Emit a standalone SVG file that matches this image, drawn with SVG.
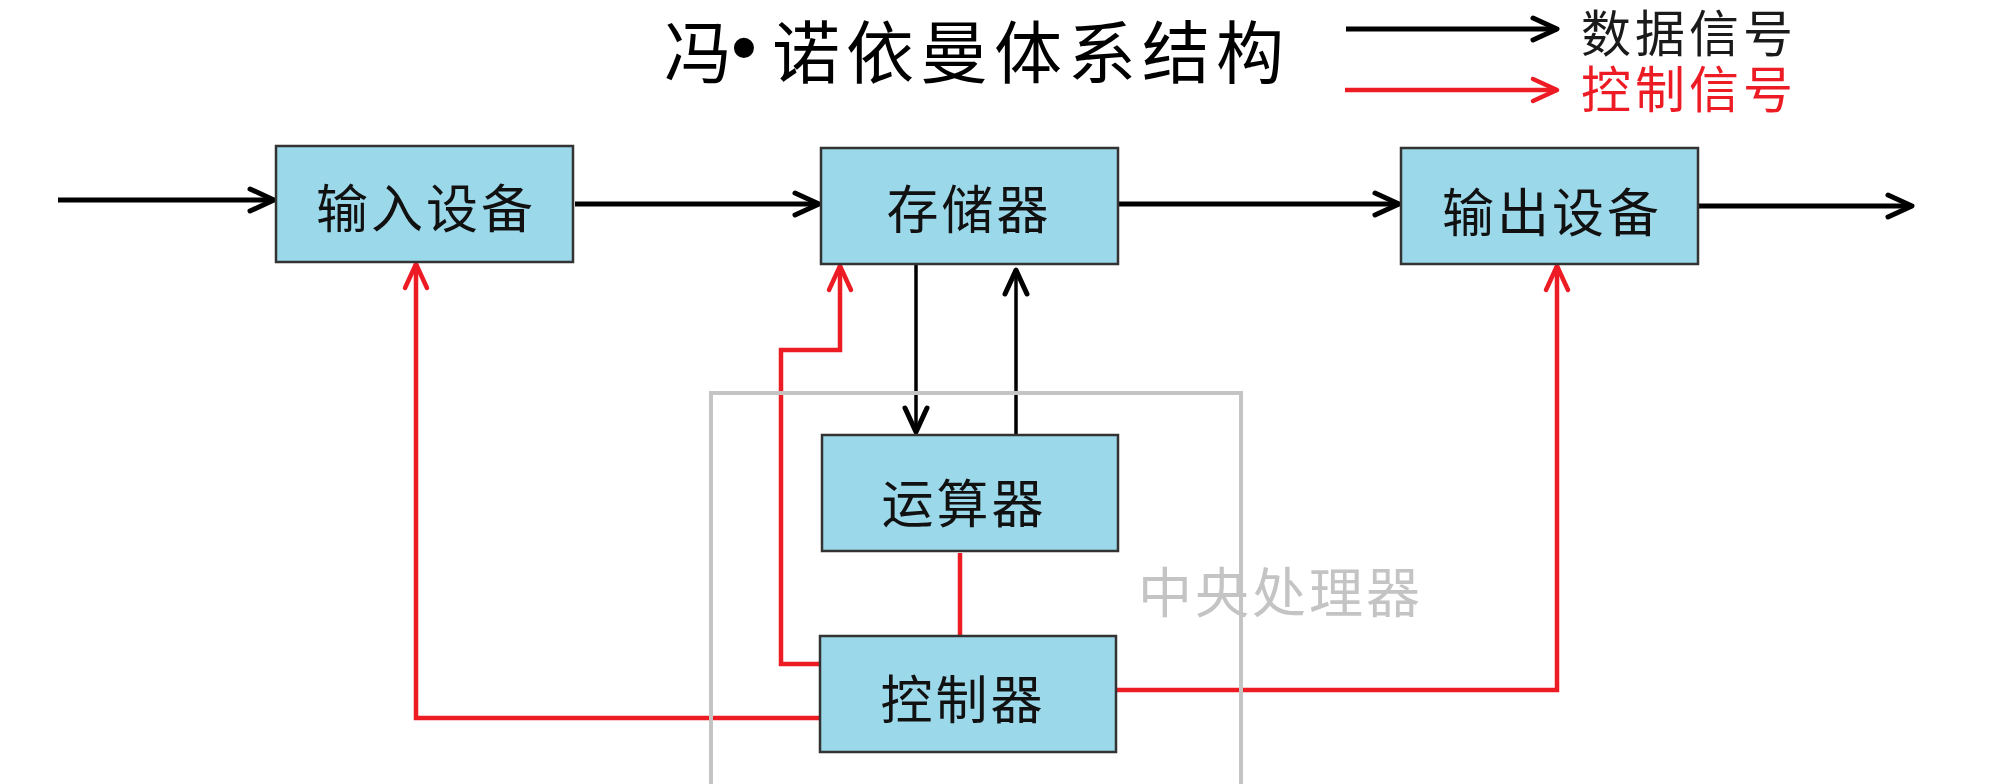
<svg xmlns="http://www.w3.org/2000/svg" width="1990" height="784" viewBox="0 0 1990 784">
<style>
.box{fill:#9bd8e9;stroke:#333;stroke-width:2.5}
.bt{font-family:"Noto Sans CJK SC","Noto Sans",sans-serif;font-size:52px;fill:#111;text-anchor:middle;letter-spacing:3px}
.blk{fill:none;stroke:#000;stroke-width:5}
.blkt{fill:none;stroke:#000;stroke-width:3.5}
.red{fill:none;stroke:#ed1c24;stroke-width:4.5}
.lg{font-family:"Noto Sans CJK SC","Noto Sans",sans-serif;font-size:50px;letter-spacing:4px}
</style>
<defs>
<marker id="ab" markerUnits="userSpaceOnUse" viewBox="-32 -16 38 32" refX="0" refY="0" markerWidth="38" markerHeight="32" orient="auto">
<path d="M-24,-11 L0,0 L-24,11" fill="none" stroke="#000" stroke-width="5" stroke-linecap="round" stroke-linejoin="round"/>
</marker>
<marker id="ar" markerUnits="userSpaceOnUse" viewBox="-32 -16 38 32" refX="0" refY="0" markerWidth="38" markerHeight="32" orient="auto">
<path d="M-24,-11 L0,0 L-24,11" fill="none" stroke="#ed1c24" stroke-width="4.5" stroke-linecap="round" stroke-linejoin="round"/>
</marker>
</defs>
<rect width="1990" height="784" fill="#fff"/>
<g id="title">
<text y="78" font-family="'Noto Sans CJK SC','Noto Sans',sans-serif" font-size="68" fill="#000"><tspan x="664">冯</tspan><tspan x="731" y="73" font-family="'Liberation Sans',sans-serif" font-size="74">•</tspan><tspan x="772" y="78" letter-spacing="6">诺依曼体系结构</tspan></text>
</g>
<g id="legend">
<path class="blk" d="M1346,29 H1557" marker-end="url(#ab)"/>
<path class="red" d="M1345,90 H1557" marker-end="url(#ar)"/>
<text class="lg" x="1581" y="52" fill="#1a1a1a">数据信号</text>
<text class="lg" x="1581" y="108" fill="#ed1c24">控制信号</text>
</g>
<g id="connectors">
<path class="blk" d="M58,200 H274" marker-end="url(#ab)"/>
<path class="blk" d="M575,204 H819" marker-end="url(#ab)"/>
<path class="blk" d="M1119,204 H1399" marker-end="url(#ab)"/>
<path class="blk" d="M1699,206 H1912" marker-end="url(#ab)"/>
<path class="blkt" d="M916,265 V432" marker-end="url(#ab)"/>
<path class="blkt" d="M1016,434 V270" marker-end="url(#ab)"/>
<path class="red" d="M820,718 H416 V264" marker-end="url(#ar)"/>
<path class="red" d="M820,664 H781 V350 H840 V266" marker-end="url(#ar)"/>
<path class="red" d="M1116,690 H1557 V266" marker-end="url(#ar)"/>
<path class="red" d="M960,553 V636"/>
</g>
<g id="cpu">
<rect x="711" y="393" width="530" height="430" fill="none" stroke="#c4c4c4" stroke-width="4"/>
<text x="1138" y="613" font-family="'Noto Sans CJK SC','Noto Sans',sans-serif" font-size="54" fill="#c4c4c4" letter-spacing="3">中央处理器</text>
</g>
<g id="input">
<rect class="box" x="276" y="146" width="297" height="116"/>
<text class="bt" x="426" y="228">输入设备</text>
</g>
<g id="memory">
<rect class="box" x="821" y="148" width="297" height="116"/>
<text class="bt" x="969" y="229">存储器</text>
</g>
<g id="output">
<rect class="box" x="1401" y="148" width="297" height="116"/>
<text class="bt" x="1552" y="232">输出设备</text>
</g>
<g id="alu">
<rect class="box" x="822" y="435" width="296" height="116"/>
<text class="bt" x="964" y="523">运算器</text>
</g>
<g id="controller">
<rect class="box" x="820" y="636" width="296" height="116"/>
<text class="bt" x="963" y="719">控制器</text>
</g>
</svg>
